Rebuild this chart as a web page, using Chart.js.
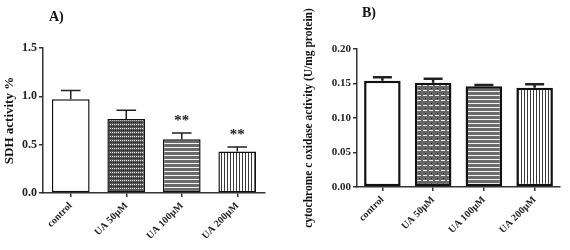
<!DOCTYPE html>
<html>
<head>
<meta charset="utf-8">
<script src="https://cdn.jsdelivr.net/npm/chart.js@4/dist/chart.umd.min.js"></script>
<style>
  body { margin: 0; background: #fff; }
  #wrap { position: relative; width: 570px; height: 250px; }
  canvas { position: absolute; top: 0; }
  #chartA { left: 0; }
  #chartB { left: 285px; }
</style>
</head>
<body>
<div id="wrap">
  <canvas id="chartA" width="285" height="250"></canvas>
  <canvas id="chartB" width="285" height="250"></canvas>
</div>
<script>
// data
const categories = ['control', 'UA 50µM', 'UA 100µM', 'UA 200µM'];

const sdhMean = [0.97, 0.765, 0.555, 0.43];
const sdhSem = [0.09, 0.09, 0.065, 0.047];
const sdhStars = ['', '', '**', '**'];

const coxMean = [0.154, 0.151, 0.146, 0.144];
const coxSem = [0.005, 0.006, 0.002, 0.005];
const coxStars = ['', '', '', ''];

const serif = '"Liberation Serif", "DejaVu Serif", serif';

// small tiles for the bar fills
function makePattern(w, h, draw) {
    const c = document.createElement('canvas');
    c.width = w;
    c.height = h;
    const g = c.getContext('2d');
    draw(g);
    return g.createPattern(c, 'repeat');
}

const dotted = makePattern(4, 4, g => {
    g.fillStyle = '#555';
    g.fillRect(0, 0, 4, 4);
    g.fillStyle = '#f2f2f2';
    g.fillRect(0, 0, 1, 1);
    g.fillRect(2, 0, 1, 1);
    g.fillStyle = '#222';
    g.fillRect(1, 2, 1, 1);
    g.fillRect(3, 2, 1, 1);
});
const dottedB = makePattern(6, 5, g => {
    g.fillStyle = '#666';
    g.fillRect(0, 0, 6, 5);
    g.fillStyle = '#eee';
    g.fillRect(0, 0, 4, 1);
    g.fillStyle = '#222';
    g.fillRect(2, 3, 1, 1);
});
const hStripes = makePattern(4, 4, g => {
    g.fillStyle = '#6a6a6a';
    g.fillRect(0, 0, 4, 4);
    g.fillStyle = '#f4f4f4';
    g.fillRect(0, 3, 4, 1);
});
const vStripes = makePattern(3, 4, g => {
    g.fillStyle = '#fff';
    g.fillRect(0, 0, 3, 4);
    g.fillStyle = '#3a3a3a';
    g.fillRect(2, 0, 1, 4);
});

// error bars (mean + SEM, upper only) and significance marks
const errorBars = {
    id: 'errorBars',
    afterDatasetsDraw(chart, args, opts) {
        const ctx = chart.ctx;
        const meta = chart.getDatasetMeta(0);
        const y = chart.scales.y;
        const means = chart.data.datasets[0].data;
        ctx.save();
        ctx.strokeStyle = '#222';
        ctx.lineWidth = opts.lineWidth;
        meta.data.forEach((bar, i) => {
            const top = y.getPixelForValue(means[i] + opts.sem[i]);
            const half = bar.width * 0.26;
            ctx.beginPath();
            ctx.moveTo(bar.x, bar.y);
            ctx.lineTo(bar.x, top);
            ctx.moveTo(bar.x - half, top);
            ctx.lineTo(bar.x + half, top);
            ctx.stroke();
            if (opts.stars[i]) {
                ctx.fillStyle = '#222';
                ctx.font = 'bold 15px ' + serif;
                ctx.textAlign = 'center';
                ctx.textBaseline = 'bottom';
                ctx.fillText(opts.stars[i], bar.x, top - 4);
            }
        });
        ctx.restore();
    }
};

// panel letter in the top left
const panelLabel = {
    id: 'panelLabel',
    afterDraw(chart, args, opts) {
        const ctx = chart.ctx;
        ctx.save();
        ctx.fillStyle = '#111';
        ctx.font = 'bold 14px ' + serif;
        ctx.textBaseline = 'middle';
        ctx.fillText(opts.text, opts.x, opts.y);
        ctx.restore();
    }
};

function makeChart(id, cfg) {
    return new Chart(document.getElementById(id), {
        type: 'bar',
        data: {
            labels: categories,
            datasets: [{
                data: cfg.values,
                backgroundColor: cfg.fills,
                borderColor: '#111',
                borderWidth: cfg.border,
                borderSkipped: false,
                categoryPercentage: 1,
                barPercentage: cfg.barPct
            }]
        },
        options: {
            responsive: false,
            animation: false,
            layout: { padding: cfg.padding },
            plugins: {
                legend: { display: false },
                tooltip: { enabled: false },
                errorBars: { sem: cfg.sem, stars: cfg.stars, lineWidth: cfg.errWidth },
                panelLabel: cfg.panel
            },
            scales: {
                x: {
                    offset: true,
                    grid: { offset: false, drawOnChartArea: false, tickLength: 4, color: '#333', lineWidth: 1.5 },
                    border: { color: '#333', width: 1.5 },
                    ticks: {
                        minRotation: 45,
                        maxRotation: 45,
                        padding: 3,
                        color: '#222',
                        font: { family: serif, size: 10, weight: 'bold' }
                    },
                    afterFit: s => { s.height = cfg.xHeight; }
                },
                y: {
                    min: 0,
                    max: cfg.max,
                    grid: { drawOnChartArea: false, tickLength: 4, color: '#333', lineWidth: 1.5 },
                    border: { color: '#333', width: 1.5 },
                    ticks: {
                        stepSize: cfg.step,
                        padding: 2,
                        color: '#222',
                        font: { family: serif, size: cfg.tickSize, weight: 'bold' },
                        callback: v => v.toFixed(cfg.decimals)
                    },
                    title: {
                        display: true,
                        text: cfg.title,
                        color: '#111',
                        padding: { top: cfg.titlePad, bottom: 0 },
                        font: { family: serif, size: cfg.titleSize, weight: 'bold' }
                    },
                    afterFit: s => { s.width = cfg.yWidth; }
                }
            }
        },
        plugins: [errorBars, panelLabel]
    });
}

makeChart('chartA', {
    values: sdhMean,
    sem: sdhSem,
    stars: sdhStars,
    fills: ['#fff', dotted, hStripes, vStripes],
    border: 1.5,
    errWidth: 1.5,
    barPct: 0.68,
    padding: { top: 48, right: 20, left: 0, bottom: 0 },
    xHeight: 57,
    yWidth: 43,
    max: 1.5,
    step: 0.5,
    decimals: 1,
    tickSize: 12,
    title: 'SDH activity %',
    titleSize: 13,
    titlePad: 2,
    panel: { text: 'A)', x: 49, y: 17 }
});

makeChart('chartB', {
    values: coxMean,
    sem: coxSem,
    stars: coxStars,
    fills: ['#fff', dottedB, hStripes, vStripes],
    border: 2.5,
    errWidth: 2.5,
    barPct: 0.72,
    padding: { top: 49, right: 10, left: 0, bottom: 0 },
    xHeight: 63,
    yWidth: 72,
    max: 0.2,
    step: 0.05,
    decimals: 2,
    tickSize: 11,
    title: 'cytochrome c oxidase activity (U/mg protein)',
    titleSize: 11.5,
    titlePad: 17,
    panel: { text: 'B)', x: 77, y: 13 }
});
</script>
</body>
</html>
